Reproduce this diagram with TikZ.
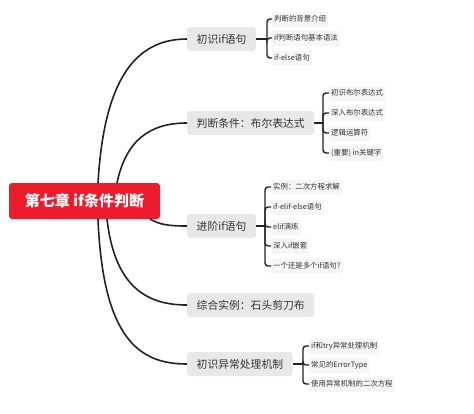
\documentclass[tikz,border=0pt]{standalone}
\usepackage{fontspec}
\setmainfont{Noto Sans CJK SC}
\begin{document}
\begin{tikzpicture}[x=1pt,y=-1pt,
  rootbox/.style={fill=rootred,text=white,rounded corners=3pt,minimum width=151pt,minimum height=36pt,font=\fontsize{15}{15}\selectfont\bfseries},
  branchbox/.style={fill=branchgray,text=textgray,rounded corners=3pt,minimum height=24pt,inner xsep=9.5pt,inner ysep=0pt,anchor=west,font=\fontsize{10.8}{11}\selectfont},
  leafbox/.style={fill=leafgray,text=textgray,inner xsep=2pt,inner ysep=0pt,minimum height=15pt,anchor=west,font=\fontsize{7.4}{8}\selectfont},
  link/.style={draw=linkc,line width=1.6pt},
  tick/.style={draw=linkc,line width=1.4pt,rounded corners=3pt}]
\definecolor{rootred}{HTML}{EC1C2C}
\definecolor{branchgray}{HTML}{E8E8E8}
\definecolor{leafgray}{HTML}{F6F6F6}
\definecolor{textgray}{HTML}{333333}
\definecolor{linkc}{HTML}{222222}
\useasboundingbox (0,0) rectangle (474,413);

\node[rootbox] (root) at (84.5,201) {第七章 if条件判断};

\node[branchbox] (b1) at (187,39) {初识if语句};
\node[branchbox] (b2) at (187,123) {判断条件：布尔表达式};
\node[branchbox] (b3) at (187,226) {进阶if语句};
\node[branchbox] (b4) at (187,305) {综合实例：石头剪刀布};
\node[branchbox] (b5) at (187,364) {初识异常处理机制};

\coordinate (r1) at (98,183);
\coordinate (r2) at (117,183);
\coordinate (r3) at (150,219);
\coordinate (r4) at (107,219);
\coordinate (r5) at (98,219);

\draw[link] (r1) .. controls (104,80) and (135,39) .. (b1.west);
\draw[link] (r2) .. controls (126,140) and (150,123) .. (b2.west);
\draw[link] (r3) .. controls (160,225) and (170,226) .. (b3.west);
\draw[link] (r4) .. controls (115,290) and (150,305) .. (b4.west);
\draw[link] (r5) .. controls (103,340) and (140,364) .. (b5.west);

% branch 1 leaves
\coordinate (j1) at (267,39);
\node[leafbox] (l11) at (272,19) {判断的背景介绍};
\node[leafbox] (l12) at (272,38) {if判断语句基本语法};
\node[leafbox] (l13) at (272,58) {if-else语句};
\draw[link] (b1.east) -- (j1);
\draw[tick] (j1) |- (l11.west);
\draw[tick] (j1) |- (l12.west);
\draw[tick] (j1) |- (l13.west);

% branch 2 leaves
\coordinate (j2) at (323,123);
\node[leafbox] (l21) at (329,93) {初识布尔表达式};
\node[leafbox] (l22) at (329,113) {深入布尔表达式};
\node[leafbox] (l23) at (329,133) {逻辑运算符};
\node[leafbox] (l24) at (329,153) {(重要) in关键字};
\draw[link] (b2.east) -- (j2);
\draw[tick] (j2) |- (l21.west);
\draw[tick] (j2) |- (l22.west);
\draw[tick] (j2) |- (l23.west);
\draw[tick] (j2) |- (l24.west);

% branch 3 leaves
\coordinate (j3) at (265,226);
\node[leafbox] (l31) at (271,187) {实例：二次方程求解};
\node[leafbox] (l32) at (271,207) {if-elif-else语句};
\node[leafbox] (l33) at (271,227) {elif演练};
\node[leafbox] (l34) at (271,246) {深入if嵌套};
\node[leafbox] (l35) at (271,266) {一个还是多个if语句?};
\draw[link] (b3.east) -- (j3);
\draw[tick] (j3) |- (l31.west);
\draw[tick] (j3) |- (l32.west);
\draw[tick] (j3) |- (l33.west);
\draw[tick] (j3) |- (l34.west);
\draw[tick] (j3) |- (l35.west);

% branch 5 leaves
\coordinate (j5) at (303,364);
\node[leafbox] (l51) at (309,346) {if和try异常处理机制};
\node[leafbox] (l52) at (309,365) {常见的ErrorType};
\node[leafbox] (l53) at (309,384) {使用异常机制的二次方程};
\draw[link] (b5.east) -- (j5);
\draw[tick] (j5) |- (l51.west);
\draw[tick] (j5) |- (l52.west);
\draw[tick] (j5) |- (l53.west);
\end{tikzpicture}
\end{document}
